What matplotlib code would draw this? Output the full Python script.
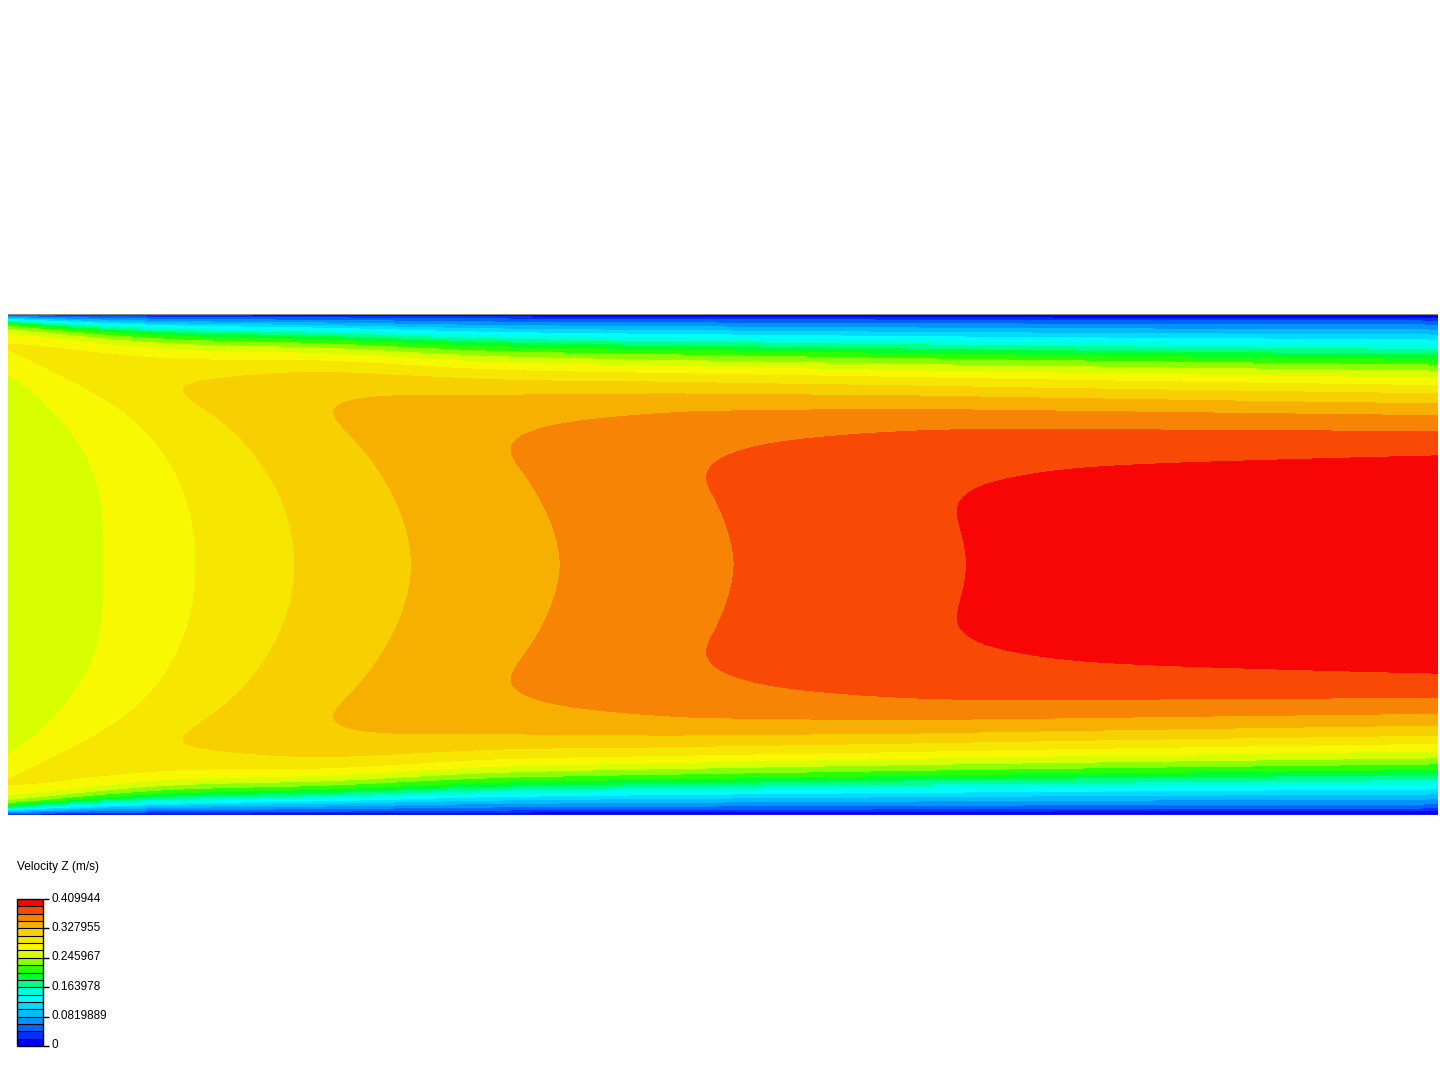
import numpy as np
import matplotlib
matplotlib.use('Agg')
import matplotlib.pyplot as plt
import matplotlib.transforms as mtransforms

plt.rcParams['font.family'] = ['Liberation Sans', 'DejaVu Sans']

# colour bar
v_max = 0.409944
n_bands = 20
tick_vals = [0, 0.0819889, 0.163978, 0.245967, 0.327955, 0.409944]
tick_text = ['0', '0.0819889', '0.163978', '0.245967', '0.327955', '0.409944']
band_colors = ['#0000ff', '#0030ff', '#0064ff', '#0094ff', '#00bcff',
               '#00dcff', '#00fcff', '#00ffd8', '#00ff8c', '#00ff30',
               '#2cff00', '#8cff00', '#d8ff00', '#f8f800', '#f6e600',
               '#f8d000', '#f8b000', '#f88405', '#f94a05', '#f80505']

# values, lengths in pipe diameters
pipe_len = 2.86
# peak velocity just outside the wall layer
edge_x = [0, 0.324, 0.638, 0.988, 1.39, 1.876, 2.86]
edge_u = [0.295, 0.3075, 0.328, 0.348, 0.369, 0.389, 0.4095]
# wall layer thickness
delta_x = [0, 0.324, 0.638, 0.988, 1.39, 1.876, 2.86]
delta_d = [0.066, 0.152, 0.198, 0.272, 0.326, 0.382, 0.462]
# centreline velocity
centre_x = [0, 0.192, 0.376, 0.574, 0.808, 1.098, 1.454, 1.9, 2.86]
centre_u = [0.255, 0.2665, 0.287, 0.3075, 0.328, 0.348, 0.369, 0.389, 0.405]
# how flat the core dip is
shape_x = [0, 0.1, 0.2, 0.4, 0.8, 1.5, 2.86]
shape_n = [10, 6, 4, 2.4, 1.9, 1.7, 1.7]
# outlet: wall distance of each band edge (1..19)
outlet_dist = np.array([4.5, 7, 11, 16, 21, 26, 31, 35.5, 40.5, 45.5, 51, 57,
                        64, 71.5, 79.5, 89.5, 101, 116.5, 139.5]) / 500.0


def pchip(xk, yk, xq):
    xk = np.asarray(xk, float)
    yk = np.asarray(yk, float)
    h = np.diff(xk)
    m = np.diff(yk) / h
    d = np.zeros_like(yk)
    d[0], d[-1] = m[0], m[-1]
    for k in range(1, len(xk) - 1):
        if m[k - 1] * m[k] > 0:
            w1 = 2 * h[k] + h[k - 1]
            w2 = h[k] + 2 * h[k - 1]
            d[k] = (w1 + w2) / (w1 / m[k - 1] + w2 / m[k])
    i = np.clip(np.searchsorted(xk, xq) - 1, 0, len(xk) - 2)
    t = (xq - xk[i]) / h[i]
    h00 = 2 * t**3 - 3 * t**2 + 1
    h10 = t**3 - 2 * t**2 + t
    h01 = -2 * t**3 + 3 * t**2
    h11 = t**3 - t**2
    return h00 * yk[i] + h10 * h[i] * d[i] + h01 * yk[i + 1] + h11 * h[i] * d[i + 1]


def blur(a, sig, axis):
    n = int(3 * sig)
    k = np.exp(-0.5 * (np.arange(-n, n + 1) / sig) ** 2)
    k /= k.sum()
    pad = [(0, 0), (0, 0)]
    pad[axis] = (n, n)
    p = np.pad(a, pad, mode='edge')
    out = np.zeros_like(a)
    L = a.shape[axis]
    for j, kv in enumerate(k):
        out += kv * np.take(p, np.arange(j, j + L), axis=axis)
    return out


step = v_max / n_bands
levels = np.linspace(0, v_max, n_bands + 1)

# wall layer shape taken from the outlet profile
s_tab = np.concatenate([[0], outlet_dist / delta_d[-1], [0.75, 0.88, 1.0]])
b_tab = np.concatenate([[0], np.arange(1, n_bands) * step / edge_u[-1], [0.985, 0.997, 1.0]])

x = np.linspace(0, pipe_len, 1144)
y = np.linspace(-0.5, 0.5, 501)
ue = pchip(edge_x, edge_u, x)
uc = pchip(centre_x, centre_u, x)
dl = pchip(delta_x, delta_d, x)
nn = pchip(shape_x, shape_n, x)

X, Y = np.meshgrid(x, y)
dist = 0.5 - np.abs(Y)
r = np.abs(Y) / 0.5
s = dist / dl[None, :]
B = np.interp(s, s_tab, b_tab)
rc = 1 - dl[None, :] / 0.5
rho = np.clip(r / rc, 0, 1)
w = 1 - rho ** nn[None, :]
dip = np.clip(ue - uc, 0, None)[None, :]
U = (ue[None, :] - dip * w) * B

# round off the corners in the core, keep the wall layer as is
Ub = blur(blur(U, 8, 0), 4, 1)
m = np.clip((s - 0.3) / 0.4, 0, 1)
U = Ub * m + U * (1 - m)
U = np.clip(U, 0, v_max * 0.9999)

fig = plt.figure(figsize=(14.4, 10.8), dpi=100)
ax = fig.add_axes([8 / 1440, 265 / 1080, 1430 / 1440, 501 / 1080])
cs = ax.contourf(x, y, U, levels=levels, colors=band_colors)
ax.axhline(0.5, color='#888888', lw=1.5)
ax.axhline(-0.5, color='#888888', lw=1.0)
ax.set_xlim(0, pipe_len)
ax.set_ylim(-0.5, 0.5)
ax.axis('off')

cax = fig.add_axes([17 / 1440, 34 / 1080, 26 / 1440, 147 / 1080])
cb = fig.colorbar(cs, cax=cax, drawedges=True, ticks=tick_vals)
cb.ax.set_yticklabels(tick_text)
cb.outline.set_edgecolor('black')
cb.outline.set_linewidth(1.0)
cb.dividers.set_color('black')
cb.dividers.set_linewidth(0.8)
cb.ax.tick_params(length=4, width=1, direction='out', labelsize=8.5, pad=2, colors='black')
shift = mtransforms.ScaledTranslation(0, 2 / 100, fig.dpi_scale_trans)
for lab in cb.ax.get_yticklabels():
    lab.set_transform(lab.get_transform() + shift)
fig.text(17 / 1440, 1 - 867 / 1080, 'Velocity Z (m/s)', fontsize=8.6, va='center', ha='left')

fig.savefig('out.png', dpi=100)
